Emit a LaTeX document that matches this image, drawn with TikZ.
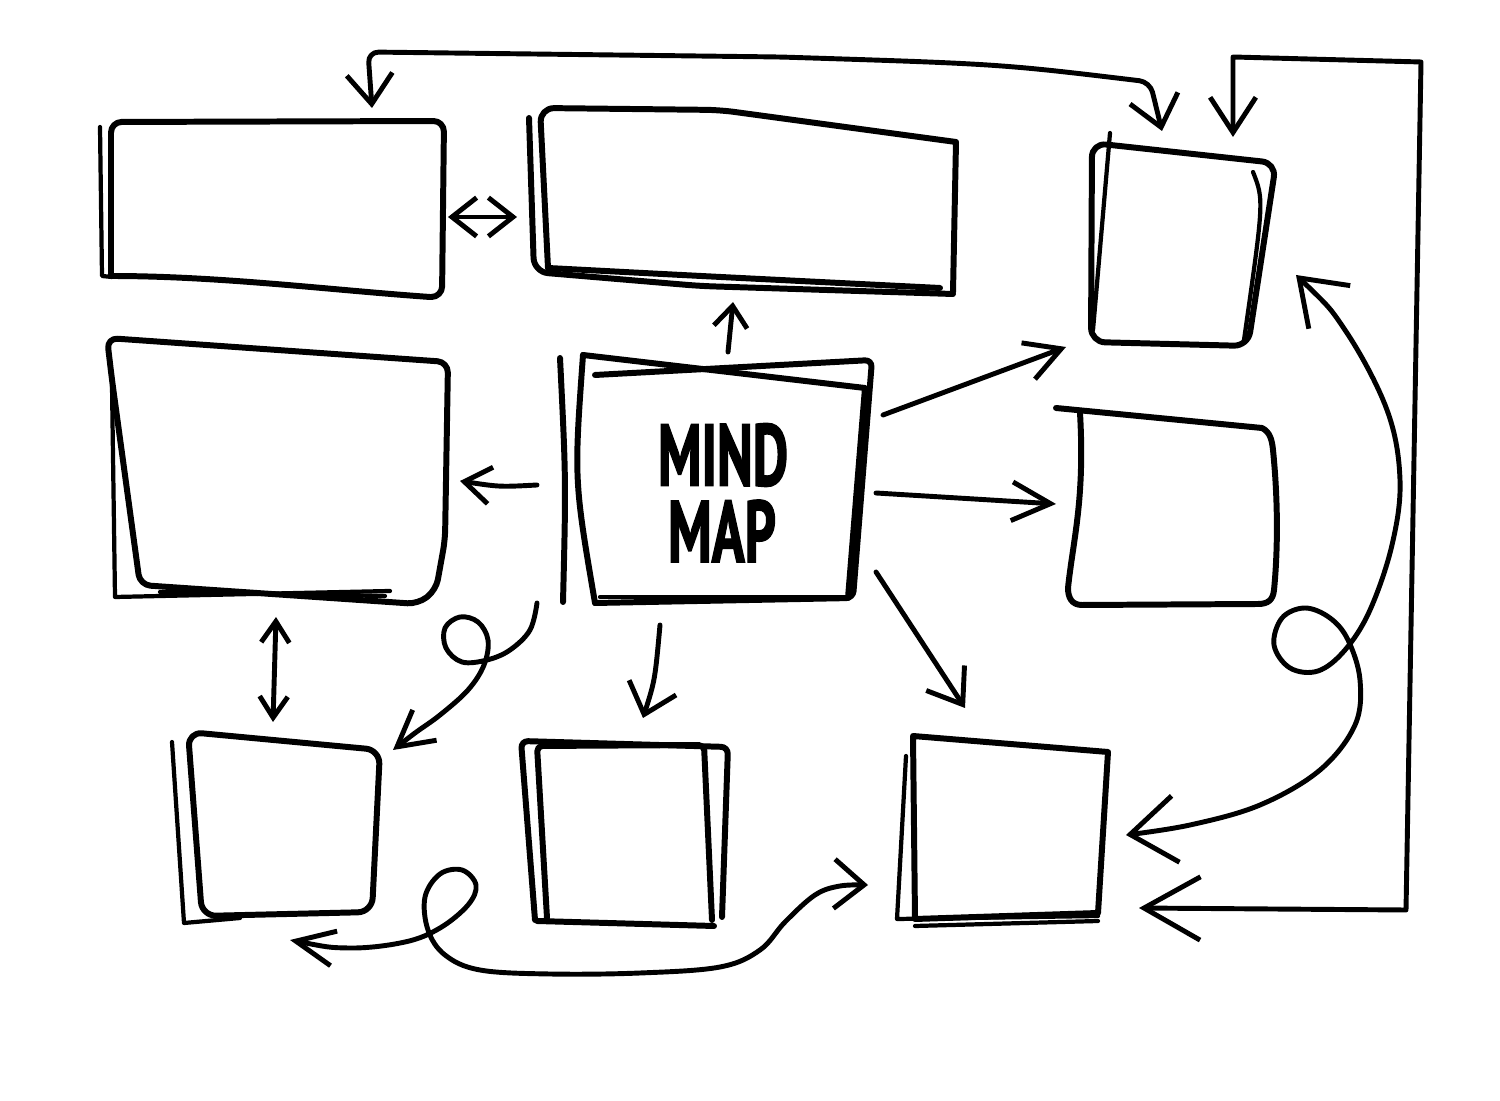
\documentclass[tikz,border=0pt]{standalone}
\usepackage{fontspec}
\newfontfamily\mapfont{PT Sans}[FakeStretch=0.62, FakeBold=1.5]
\usetikzlibrary{arrows.meta}
\tikzset{
  sketch/.style={line width=1.7pt, line cap=round, line join=round},
  thinsketch/.style={line width=1.2pt, line cap=round, line join=round},
  link/.style={line width=1.4pt, line cap=round, line join=round},
  title/.style={font=\mapfont\bfseries\fontsize{25}{25}\selectfont, inner sep=0pt},
}
\begin{document}
\begin{tikzpicture}[x=0.01cm, y=-0.01cm, >={Straight Barb[length=9pt,width=13pt]}]
    \useasboundingbox (0,0) rectangle (1500,1101);

    % Рамки: верхний ряд
    \draw[sketch] (111,276) [rounded corners=3pt]-- (111,122) -- (444,121) -- (442,297) [sharp corners]-- (430,297) .. controls (330,290) and (220,276) .. (111,276);
    \draw[thinsketch] (100,127) -- (102,276) -- (112,277);
    \draw[sketch] (548,268) [rounded corners=4pt]-- (540,108) -- (720,110) [sharp corners]-- (956,142) -- (953,292);
    \draw[sketch] (548,268) .. controls (700,276) .. (940,288);
    \draw[sketch, rounded corners=4pt] (529,118) -- (534,272) -- (700,286) -- (953,294);
    \draw[sketch, rounded corners=4pt] (1091,342) -- (1092,143) -- (1276,163) -- (1248,346) -- cycle;
    \draw[thinsketch] (1110,133) -- (1093,330);
    \draw[thinsketch] (1253,172) .. controls (1264,200) .. (1244,340);

    % Рамки: средний ряд
    \draw[sketch, rounded corners=3pt] (107,338) -- (448,362) -- (445,540) -- (436,590) -- (418,604) -- (140,585) -- (112,380) -- cycle;
    \draw[thinsketch] (112,385) -- (115,597) -- (390,591);
    \draw[thinsketch] (160,592) -- (385,596);
    \draw[sketch] (583,355) -- (865,388) -- (848,598);
    \draw[sketch, rounded corners=2pt] (595,375) -- (872,360) -- (853,598) -- (595,603);
    \draw[sketch] (595,603) .. controls (574,480) .. (583,355);
    \draw[thinsketch] (600,597) -- (850,597);
    \draw[sketch] (560,358) .. controls (566,480) .. (563,602);
    \node[title] (title-1) at (723,455) {MIND};
    \node[title] (title-2) at (722,531) {MAP};
    \draw[sketch] (1056,408) -- (1262,428) .. controls (1270,432) and (1272,440) .. (1273,450) .. controls (1279,510) and (1277,560) .. (1274,590) .. controls (1273,600) and (1268,604) .. (1258,604) -- (1082,605) .. controls (1072,605) and (1068,598) .. (1068,588) .. controls (1073,540) and (1085,500) .. (1080,413);

    % Рамки: нижний ряд
    \draw[sketch, rounded corners=4pt] (188,732) -- (380,750) -- (372,912) -- (202,916) -- cycle;
    \draw[thinsketch] (172,742) -- (184,923) -- (240,918);
    \draw[sketch, rounded corners=2pt] (535,920) -- (521,741) -- (728,747) -- (722,917);
    \draw[sketch, rounded corners=1.5pt] (547,918) -- (537,746) -- (704,745) -- (712,920);
    \draw[sketch] (537,921) -- (714,926);
    \draw[sketch] (913,736) -- (1108,752) -- (1098,913) -- (915,919) -- cycle;
    \draw[thinsketch] (906,756) -- (897,919) -- (1098,916);
    \draw[thinsketch] (915,926) -- (1098,921);

    % Точки для стрелок
    \coordinate (tl-e) at (448,217);
    \coordinate (tl-n) at (372,108);
    \coordinate (tm-w) at (517,217);
    \coordinate (tm-s) at (733,302);
    \coordinate (tr-sw) at (1066,347);
    \coordinate (tr-nw) at (1162,131);
    \coordinate (tr-ne) at (1233,137);
    \coordinate (tr-e) at (1296,275);
    \coordinate (ml-e) at (460,481);
    \coordinate (ml-s) at (276,617);
    \coordinate (mm-n) at (728,352);
    \coordinate (mm-w) at (537,485);
    \coordinate (mm-ne) at (883,415);
    \coordinate (mm-e) at (876,493);
    \coordinate (mm-se) at (876,572);
    \coordinate (mm-s) at (660,625);
    \coordinate (mm-sw) at (537,603);
    \coordinate (mr-w) at (1056,504);
    \coordinate (bl-n) at (273,722);
    \coordinate (bl-ne) at (393,750);
    \coordinate (bl-s) at (290,940);
    \coordinate (bm-n) at (643,718);
    \coordinate (br-n) at (965,708);
    \coordinate (br-w) at (868,885);
    \coordinate (br-e) at (1126,835);
    \coordinate (br-se) at (1139,908);

    % Стрелки от центра
    \draw[link, {Straight Barb[length=7pt,width=11pt]}-{Straight Barb[length=7pt,width=11pt]}] (tl-e) -- (tm-w);
    \draw[link, -{Straight Barb[length=6pt,width=9.5pt]}] (mm-n) -- (tm-s);
    \draw[link, -{Straight Barb[length=7.5pt,width=10.5pt]}] (mm-w) .. controls (500,487) .. (ml-e);
    \draw[link, -{Straight Barb[length=10pt,width=11pt]}] (mm-ne) -- (tr-sw);
    \draw[link, -{Straight Barb[length=11pt,width=11pt]}] (mm-e) -- (mr-w);
    \draw[link, ->] (mm-se) -- (br-n);
    \draw[link, -{Straight Barb[length=8pt,width=14pt]}] (mm-s) .. controls (655,680) .. (bm-n);
    \draw[link, {Straight Barb[length=6pt,width=8pt]}-{Straight Barb[length=6pt,width=8pt]}] (ml-s) -- (bl-n);

    % Петли
    \draw[link, -{Straight Barb[length=10pt,width=11pt]}] plot[smooth, tension=0.6] coordinates {(mm-sw) (530,630) (510,650) (487,660) (462,662) (446,648) (445,628) (460,617) (478,622) (488,640) (484,665) (468,690) (440,715) (415,733) (bl-ne)};
    \draw[link, {Straight Barb[length=11pt,width=10pt]}-{Straight Barb[length=8.5pt,width=14pt]}] plot[smooth, tension=0.6] coordinates {(bl-s) (349,948) (405,942) (440,928) (468,905) (476,885) (462,870) (440,874) (425,897) (428,930) (445,955) (480,970) (550,974) (640,973) (720,967) (760,950) (785,922) (815,895) (840,886) (br-w)};
    \draw[link, {Straight Barb[length=12pt,width=17pt]}-{Straight Barb[length=13pt,width=19pt]}] plot[smooth, tension=0.6] coordinates {(tr-e) (1345,330) (1387,410) (1400,480) (1392,545) (1370,610) (1345,650) (1318,671) (1290,668) (1274,645) (1282,618) (1305,608) (1330,618) (1348,640) (1360,680) (1355,725) (1320,770) (1260,805) (1190,825) (br-e)};

    % Обводящие линии
    \draw[link, {Straight Barb[length=8.5pt,width=13pt]}-{Straight Barb[length=8.5pt,width=14pt]}, rounded corners=3pt] (tl-n) -- (368,52) -- (780,57) .. controls (1000,64) .. (1150,82) -- (tr-nw);
    \draw[link, {Straight Barb[length=16pt,width=18pt]}-{Straight Barb[length=10pt,width=13pt]}] (br-se) -- (1406,910) -- (1421,62) -- (1233,57) -- (tr-ne);
\end{tikzpicture}
\end{document}
